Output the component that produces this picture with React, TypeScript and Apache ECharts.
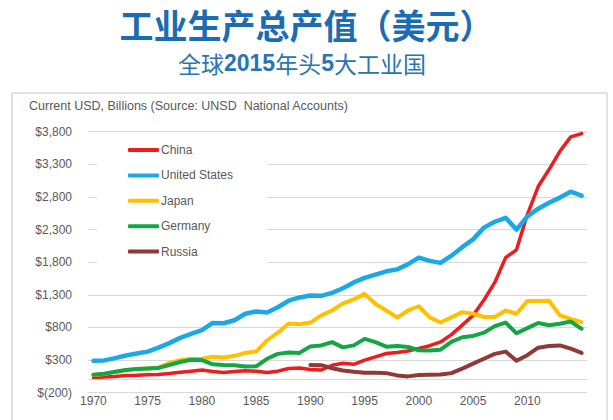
import React, { useEffect, useRef } from "react";
import * as echarts from "echarts";

const years: string[] = [];
for (let y = 1970; y <= 2015; y++) years.push(String(y));

const seriesNames = ["China", "United States", "Japan", "Germany", "Russia"];

const china = [30, 40, 50, 65, 68, 75, 80, 95, 115, 130, 148, 125, 110, 125, 135, 130, 110, 130, 170, 180,
  155, 148, 220, 250, 235, 300, 350, 400, 415, 440, 480, 520, 578, 690, 835, 985, 1220, 1490, 1870, 1990,
  2530, 2960, 3220, 3500, 3720, 3770];
const unitedStates = [290, 295, 330, 370, 400, 430, 490, 560, 640, 700, 760, 870, 865, 910, 1010, 1045, 1030, 1110, 1210, 1260,
  1290, 1285, 1330, 1400, 1490, 1560, 1610, 1660, 1690, 1770, 1870, 1820, 1790, 1900, 2030, 2150, 2330, 2420, 2480, 2300,
  2500, 2620, 2710, 2790, 2880, 2820];
const japan = [70, 85, 115, 145, 160, 170, 185, 255, 300, 315, 320, 350, 340, 365, 410, 430, 600, 720, 860, 850,
  875, 985, 1060, 1170, 1230, 1315, 1160, 1060, 950, 1060, 1125, 955, 875, 955, 1035, 1010, 960, 960, 1060, 1010,
  1205, 1205, 1210, 985, 930, 880];
const germany = [75, 90, 120, 148, 165, 172, 180, 225, 270, 305, 300, 235, 225, 220, 200, 205, 320, 395, 415, 410,
  510, 525, 575, 495, 525, 625, 575, 505, 515, 500, 450, 445, 460, 580, 650, 670, 720, 820, 875, 710,
  790, 868, 835, 858, 890, 780];
const russia: (number | null)[] = [null, null, null, null, null, null, null, null, null, null, null, null, null, null, null, null, null, null, null, null,
  225, 222, 175, 140, 120, 105, 105, 100, 65, 50, 70, 75, 78, 100, 170, 245, 320, 395, 430, 290,
  375, 490, 515, 525, 475, 410];

const colors = ["#EE1C1C", "#1AA9E6", "#FFC000", "#14A545", "#8E3A37"];
const widths = [3.5, 4.5, 4, 4, 4];

const yMin = -200;
const yMax = 3800;
const yStep = 500;

const titleText = "工业生产总产值（美元）";
const subtitleParts = ["全球", "2015", "年头", "5", "大工业国"];
const unitText = "Current USD, Billions (Source: UNSD  National Accounts)";

export default function App() {
  const ref = useRef<HTMLDivElement>(null);
  useEffect(() => {
    if (!ref.current) return;
    const chart = echarts.init(ref.current, undefined, { renderer: "svg" });
    const data = [china, unitedStates, japan, germany, russia];
    const labelFont = "'Liberation Sans', Arial, sans-serif";
    const option: any = {
      animation: false,
      backgroundColor: "#ffffff",
      title: [
        {
          text: titleText,
          left: "center",
          top: 7,
          padding: 0,
          textStyle: {
            fontFamily: "'Noto Sans CJK SC', sans-serif",
            fontSize: 34,
            lineHeight: 34,
            fontWeight: "bold",
            color: "#1B6DB3",
          },
        },
        {
          text: `{r|${subtitleParts[0]}}{b|${subtitleParts[1]}}{r|${subtitleParts[2]}}{b|${subtitleParts[3]}}{r|${subtitleParts[4]}}`,
          left: 178,
          top: 51,
          padding: 0,
          textStyle: {
            rich: {
              r: { fontFamily: "'Noto Sans CJK SC', sans-serif", fontSize: 23, lineHeight: 24, color: "#2A74B5", fontWeight: "normal" },
              b: { fontFamily: "'Liberation Sans', 'Noto Sans', sans-serif", fontSize: 23, lineHeight: 24, color: "#2A74B5", fontWeight: "bold" },
            },
          },
        },
        {
          text: unitText,
          left: 29,
          top: 99,
          padding: 0,
          textStyle: { fontFamily: labelFont, fontSize: 12.5, fontWeight: "normal", color: "#595959" },
        },
      ],
      graphic: [
        {
          type: "rect",
          z: 0,
          shape: { x: 12, y: 93, width: 595, height: 340 },
          style: { fill: "none", stroke: "#d9d9d9", lineWidth: 1.5 },
        },
        {
          type: "rect",
          z: 50,
          shape: { x: 97, y: 140, width: 170, height: 128 },
          style: { fill: "#ffffff" },
        },
      ],
      legend: {
        orient: "vertical",
        left: 128,
        top: 143,
        padding: 0,
        itemWidth: 31,
        itemHeight: 4,
        itemGap: 11.4,
        icon: "roundRect",
        z: 60,
        data: seriesNames,
        textStyle: { fontFamily: labelFont, fontSize: 12, color: "#595959", lineHeight: 14, padding: [0, 0, 0, -3] },
      },
      grid: { left: 88, right: 26, top: 131.7, bottom: 27.3, containLabel: false },
      xAxis: {
        type: "category",
        data: years,
        boundaryGap: true,
        axisLine: { show: false },
        axisTick: { show: false },
        splitLine: { show: false },
        axisLabel: {
          interval: (idx: number) => idx % 5 === 0 && idx < 45,
          margin: 2,
          fontFamily: labelFont,
          fontSize: 12,
          color: "#595959",
        },
      },
      yAxis: {
        type: "value",
        min: yMin,
        max: yMax,
        interval: yStep,
        axisLine: { show: false },
        axisTick: { show: false },
        splitLine: { lineStyle: { color: "#d9d9d9", width: 1 } },
        axisLabel: {
          margin: 16,
          fontFamily: labelFont,
          fontSize: 12,
          color: "#595959",
          formatter: (v: number) => (v < 0 ? `$(${-v})` : "$" + v.toLocaleString("en-US")),
        },
      },
      series: seriesNames.map((name, i) => ({
        name,
        type: "line",
        data: data[i],
        symbol: "none",
        showSymbol: false,
        connectNulls: false,
        color: colors[i],
        lineStyle: { width: widths[i], color: colors[i], cap: "round", join: "round" },
        z: 2,
        ...(i === 0
          ? {
              markLine: {
                silent: true,
                symbol: "none",
                label: { show: false },
                lineStyle: { color: "#d9d9d9", width: 1, type: "solid" },
                data: [{ yAxis: 0 }],
              },
            }
          : {}),
      })),
    };
    chart.setOption(option);
    return () => chart.dispose();
  }, []);
  return <div ref={ref} style={{ position: "fixed", left: 0, top: 0, width: 613, height: 420 }} />;
}
